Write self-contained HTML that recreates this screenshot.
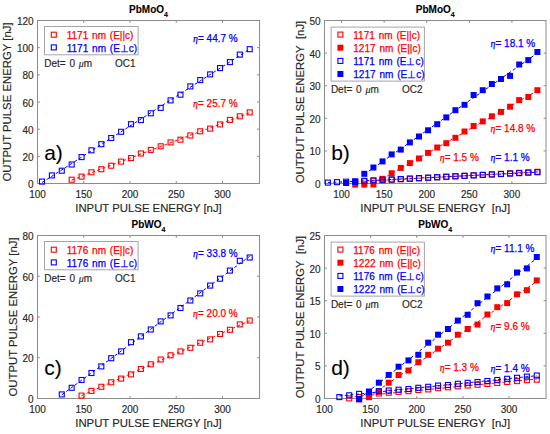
<!DOCTYPE html>
<html><head><meta charset="utf-8"><style>
html,body{margin:0;padding:0;background:#fff;}
svg{display:block;}
text{font-family:"Liberation Sans",sans-serif;fill:#262626;stroke:#262626;stroke-width:0.15px;}
.c{stroke-width:0.25px;}
.t{font-size:10px;}
.l{font-size:11.35px;}
.ti{font-size:10px;font-weight:bold;fill:#000;stroke:#000;stroke-width:0.1px;}
.big{font-size:21px;fill:#000;stroke:#000;stroke-width:0.1px;}
.g{font-family:"Liberation Serif",serif;font-style:italic;}
</style></head><body>
<svg width="550" height="434" viewBox="0 0 550 434">
<rect width="550" height="434" fill="#fff"/>
<rect x="37.5" y="20.5" width="222" height="163" fill="none" stroke="#8c8c8c" stroke-width="1"/>
<path d="M37.5 183.5v-2.4M37.5 20.5v2.4M83.75 183.5v-2.4M83.75 20.5v2.4M130 183.5v-2.4M130 20.5v2.4M176.25 183.5v-2.4M176.25 20.5v2.4M222.5 183.5v-2.4M222.5 20.5v2.4M37.5 183.5h2.4M259.5 183.5h-2.4M37.5 156.33h2.4M259.5 156.33h-2.4M37.5 129.17h2.4M259.5 129.17h-2.4M37.5 102h2.4M259.5 102h-2.4M37.5 74.83h2.4M259.5 74.83h-2.4M37.5 47.67h2.4M259.5 47.67h-2.4M37.5 20.5h2.4M259.5 20.5h-2.4" stroke="#8c8c8c" stroke-width="1" fill="none"/>
<text x="37.5" y="198.2" text-anchor="middle" class="t">100</text>
<text x="83.75" y="198.2" text-anchor="middle" class="t">150</text>
<text x="130" y="198.2" text-anchor="middle" class="t">200</text>
<text x="176.25" y="198.2" text-anchor="middle" class="t">250</text>
<text x="222.5" y="198.2" text-anchor="middle" class="t">300</text>
<text x="33.6" y="188" text-anchor="end" class="t">0</text>
<text x="33.6" y="160.83" text-anchor="end" class="t">20</text>
<text x="33.6" y="133.67" text-anchor="end" class="t">40</text>
<text x="33.6" y="106.5" text-anchor="end" class="t">60</text>
<text x="33.6" y="79.33" text-anchor="end" class="t">80</text>
<text x="33.6" y="52.17" text-anchor="end" class="t">100</text>
<text x="33.6" y="25" text-anchor="end" class="t">120</text>
<text x="148.5" y="211.8" text-anchor="middle" class="l">INPUT PULSE ENERGY [nJ]</text>
<text transform="translate(11.2 102) rotate(-90)" text-anchor="middle" class="l">OUTPUT PULSE ENERGY [nJ]</text>
<text x="148.5" y="12.6" text-anchor="middle" class="ti">PbMoO<tspan font-size="7" dy="4">4</tspan></text>
<text x="44.2" y="159.6" class="big">a)</text>
<line x1="42" y1="182.57" x2="249.69" y2="49.16" stroke="#0000ff" stroke-width="1" stroke-dasharray="3 2.5"/>
<rect x="39.5" y="179.1" width="5.0" height="5.0" fill="none" stroke="#0000ff" stroke-width="1.1"/>
<rect x="49.39" y="172.9" width="5.0" height="5.0" fill="none" stroke="#0000ff" stroke-width="1.1"/>
<rect x="59.28" y="168.2" width="5.0" height="5.0" fill="none" stroke="#0000ff" stroke-width="1.1"/>
<rect x="69.17" y="162" width="5.0" height="5.0" fill="none" stroke="#0000ff" stroke-width="1.1"/>
<rect x="79.06" y="154.6" width="5.0" height="5.0" fill="none" stroke="#0000ff" stroke-width="1.1"/>
<rect x="88.95" y="147.8" width="5.0" height="5.0" fill="none" stroke="#0000ff" stroke-width="1.1"/>
<rect x="98.84" y="141.7" width="5.0" height="5.0" fill="none" stroke="#0000ff" stroke-width="1.1"/>
<rect x="108.73" y="135.5" width="5.0" height="5.0" fill="none" stroke="#0000ff" stroke-width="1.1"/>
<rect x="118.62" y="129.3" width="5.0" height="5.0" fill="none" stroke="#0000ff" stroke-width="1.1"/>
<rect x="128.51" y="121.7" width="5.0" height="5.0" fill="none" stroke="#0000ff" stroke-width="1.1"/>
<rect x="138.4" y="117.6" width="5.0" height="5.0" fill="none" stroke="#0000ff" stroke-width="1.1"/>
<rect x="148.29" y="110.8" width="5.0" height="5.0" fill="none" stroke="#0000ff" stroke-width="1.1"/>
<rect x="158.18" y="105.4" width="5.0" height="5.0" fill="none" stroke="#0000ff" stroke-width="1.1"/>
<rect x="168.07" y="97.9" width="5.0" height="5.0" fill="none" stroke="#0000ff" stroke-width="1.1"/>
<rect x="177.96" y="92.2" width="5.0" height="5.0" fill="none" stroke="#0000ff" stroke-width="1.1"/>
<rect x="187.85" y="83.9" width="5.0" height="5.0" fill="none" stroke="#0000ff" stroke-width="1.1"/>
<rect x="197.74" y="77.6" width="5.0" height="5.0" fill="none" stroke="#0000ff" stroke-width="1.1"/>
<rect x="207.63" y="71.9" width="5.0" height="5.0" fill="none" stroke="#0000ff" stroke-width="1.1"/>
<rect x="217.52" y="65.6" width="5.0" height="5.0" fill="none" stroke="#0000ff" stroke-width="1.1"/>
<rect x="227.41" y="59.6" width="5.0" height="5.0" fill="none" stroke="#0000ff" stroke-width="1.1"/>
<rect x="237.3" y="52.1" width="5.0" height="5.0" fill="none" stroke="#0000ff" stroke-width="1.1"/>
<rect x="247.19" y="46.7" width="5.0" height="5.0" fill="none" stroke="#0000ff" stroke-width="1.1"/>
<line x1="71.67" y1="180.18" x2="249.69" y2="112.81" stroke="#ff0000" stroke-width="1" stroke-dasharray="3 2.5"/>
<rect x="69.17" y="177.2" width="5.0" height="5.0" fill="none" stroke="#ff0000" stroke-width="1.1"/>
<rect x="79.06" y="174.1" width="5.0" height="5.0" fill="none" stroke="#ff0000" stroke-width="1.1"/>
<rect x="88.95" y="169.8" width="5.0" height="5.0" fill="none" stroke="#ff0000" stroke-width="1.1"/>
<rect x="98.84" y="166.7" width="5.0" height="5.0" fill="none" stroke="#ff0000" stroke-width="1.1"/>
<rect x="108.73" y="163.2" width="5.0" height="5.0" fill="none" stroke="#ff0000" stroke-width="1.1"/>
<rect x="118.62" y="159.1" width="5.0" height="5.0" fill="none" stroke="#ff0000" stroke-width="1.1"/>
<rect x="128.51" y="155.6" width="5.0" height="5.0" fill="none" stroke="#ff0000" stroke-width="1.1"/>
<rect x="138.4" y="151" width="5.0" height="5.0" fill="none" stroke="#ff0000" stroke-width="1.1"/>
<rect x="148.29" y="147.4" width="5.0" height="5.0" fill="none" stroke="#ff0000" stroke-width="1.1"/>
<rect x="158.18" y="143.8" width="5.0" height="5.0" fill="none" stroke="#ff0000" stroke-width="1.1"/>
<rect x="168.07" y="139.9" width="5.0" height="5.0" fill="none" stroke="#ff0000" stroke-width="1.1"/>
<rect x="177.96" y="137.2" width="5.0" height="5.0" fill="none" stroke="#ff0000" stroke-width="1.1"/>
<rect x="187.85" y="133" width="5.0" height="5.0" fill="none" stroke="#ff0000" stroke-width="1.1"/>
<rect x="197.74" y="128.8" width="5.0" height="5.0" fill="none" stroke="#ff0000" stroke-width="1.1"/>
<rect x="207.63" y="126.1" width="5.0" height="5.0" fill="none" stroke="#ff0000" stroke-width="1.1"/>
<rect x="217.52" y="121.9" width="5.0" height="5.0" fill="none" stroke="#ff0000" stroke-width="1.1"/>
<rect x="227.41" y="117.4" width="5.0" height="5.0" fill="none" stroke="#ff0000" stroke-width="1.1"/>
<rect x="237.3" y="113.8" width="5.0" height="5.0" fill="none" stroke="#ff0000" stroke-width="1.1"/>
<rect x="247.19" y="109.9" width="5.0" height="5.0" fill="none" stroke="#ff0000" stroke-width="1.1"/>
<rect x="44.5" y="26.5" width="93.6" height="28.3" fill="#fff" stroke="#a6a6a6" stroke-width="1"/>
<rect x="51.3" y="32.2" width="5" height="5" fill="none" stroke="#ff0000" stroke-width="1.1"/>
<text x="66.7" y="39.1" word-spacing="1.1" style="fill:#ff0000;stroke:#ff0000" class="t c">1171 nm (E||c)</text>
<rect x="51.3" y="44.9" width="5" height="5" fill="none" stroke="#0000ff" stroke-width="1.1"/>
<text x="66.7" y="51.8" word-spacing="1.1" style="fill:#0000ff;stroke:#0000ff" class="t c">1171 nm (E&#8869;c)</text>
<text x="44.3" y="67" class="t" word-spacing="1">Det= 0 <tspan class="g">&#956;</tspan>m</text>
<text x="115" y="67" class="t">OC1</text>
<text x="193" y="41.6" style="fill:#0000ff;stroke:#0000ff" class="t c" text-anchor="start"><tspan class="g">&#951;</tspan>= 44.7 %</text>
<text x="193" y="107.1" style="fill:#ff0000;stroke:#ff0000" class="t c" text-anchor="start"><tspan class="g">&#951;</tspan>= 25.7 %</text>
<rect x="324.5" y="20.5" width="221.5" height="163" fill="none" stroke="#8c8c8c" stroke-width="1"/>
<path d="M341.54 183.5v-2.4M341.54 20.5v2.4M384.13 183.5v-2.4M384.13 20.5v2.4M426.73 183.5v-2.4M426.73 20.5v2.4M469.33 183.5v-2.4M469.33 20.5v2.4M511.92 183.5v-2.4M511.92 20.5v2.4M324.5 183.5h2.4M546 183.5h-2.4M324.5 150.9h2.4M546 150.9h-2.4M324.5 118.3h2.4M546 118.3h-2.4M324.5 85.7h2.4M546 85.7h-2.4M324.5 53.1h2.4M546 53.1h-2.4M324.5 20.5h2.4M546 20.5h-2.4" stroke="#8c8c8c" stroke-width="1" fill="none"/>
<text x="341.54" y="198.2" text-anchor="middle" class="t">100</text>
<text x="384.13" y="198.2" text-anchor="middle" class="t">150</text>
<text x="426.73" y="198.2" text-anchor="middle" class="t">200</text>
<text x="469.33" y="198.2" text-anchor="middle" class="t">250</text>
<text x="511.92" y="198.2" text-anchor="middle" class="t">300</text>
<text x="320.6" y="188" text-anchor="end" class="t">0</text>
<text x="320.6" y="155.4" text-anchor="end" class="t">10</text>
<text x="320.6" y="122.8" text-anchor="end" class="t">20</text>
<text x="320.6" y="90.2" text-anchor="end" class="t">30</text>
<text x="320.6" y="57.6" text-anchor="end" class="t">40</text>
<text x="320.6" y="25" text-anchor="end" class="t">50</text>
<text x="435.25" y="211.8" text-anchor="middle" class="l">INPUT PULSE ENERGY&#160; [nJ]</text>
<text transform="translate(304 102) rotate(-90)" text-anchor="middle" class="l">OUTPUT PULSE ENERGY&#160; [nJ]</text>
<text x="435.25" y="12.6" text-anchor="middle" class="ti">PbMoO<tspan font-size="7" dy="4">4</tspan></text>
<text x="331.2" y="159.6" class="big">b)</text>
<line x1="364.32" y1="181.3" x2="537.41" y2="171.8" stroke="#ff0000" stroke-width="1" stroke-dasharray="3 2.5"/>
<rect x="361.82" y="178.8" width="5.0" height="5.0" fill="none" stroke="#ff0000" stroke-width="1.1"/>
<rect x="370.93" y="178.3" width="5.0" height="5.0" fill="none" stroke="#ff0000" stroke-width="1.1"/>
<rect x="380.04" y="177.8" width="5.0" height="5.0" fill="none" stroke="#ff0000" stroke-width="1.1"/>
<rect x="389.15" y="177.3" width="5.0" height="5.0" fill="none" stroke="#ff0000" stroke-width="1.1"/>
<rect x="398.26" y="176.8" width="5.0" height="5.0" fill="none" stroke="#ff0000" stroke-width="1.1"/>
<rect x="407.37" y="176.3" width="5.0" height="5.0" fill="none" stroke="#ff0000" stroke-width="1.1"/>
<rect x="416.48" y="175.8" width="5.0" height="5.0" fill="none" stroke="#ff0000" stroke-width="1.1"/>
<rect x="425.59" y="175.3" width="5.0" height="5.0" fill="none" stroke="#ff0000" stroke-width="1.1"/>
<rect x="434.7" y="174.8" width="5.0" height="5.0" fill="none" stroke="#ff0000" stroke-width="1.1"/>
<rect x="443.81" y="174.3" width="5.0" height="5.0" fill="none" stroke="#ff0000" stroke-width="1.1"/>
<rect x="452.92" y="173.8" width="5.0" height="5.0" fill="none" stroke="#ff0000" stroke-width="1.1"/>
<rect x="462.03" y="173.3" width="5.0" height="5.0" fill="none" stroke="#ff0000" stroke-width="1.1"/>
<rect x="471.14" y="172.8" width="5.0" height="5.0" fill="none" stroke="#ff0000" stroke-width="1.1"/>
<rect x="480.25" y="172.3" width="5.0" height="5.0" fill="none" stroke="#ff0000" stroke-width="1.1"/>
<rect x="489.36" y="171.8" width="5.0" height="5.0" fill="none" stroke="#ff0000" stroke-width="1.1"/>
<rect x="498.47" y="171.3" width="5.0" height="5.0" fill="none" stroke="#ff0000" stroke-width="1.1"/>
<rect x="507.58" y="170.8" width="5.0" height="5.0" fill="none" stroke="#ff0000" stroke-width="1.1"/>
<rect x="516.69" y="170.3" width="5.0" height="5.0" fill="none" stroke="#ff0000" stroke-width="1.1"/>
<rect x="525.8" y="169.8" width="5.0" height="5.0" fill="none" stroke="#ff0000" stroke-width="1.1"/>
<rect x="534.91" y="169.3" width="5.0" height="5.0" fill="none" stroke="#ff0000" stroke-width="1.1"/>
<line x1="382.54" y1="178.68" x2="537.41" y2="90.67" stroke="#ff0000" stroke-width="1" stroke-dasharray="3 2.5"/>
<rect x="352.21" y="181.6" width="6" height="6" fill="#ff0000"/>
<rect x="361.32" y="181.6" width="6" height="6" fill="#ff0000"/>
<rect x="370.43" y="181.5" width="6" height="6" fill="#ff0000"/>
<rect x="379.54" y="175.8" width="6" height="6" fill="#ff0000"/>
<rect x="388.65" y="170.3" width="6" height="6" fill="#ff0000"/>
<rect x="397.76" y="164.9" width="6" height="6" fill="#ff0000"/>
<rect x="406.87" y="160.1" width="6" height="6" fill="#ff0000"/>
<rect x="415.98" y="155.5" width="6" height="6" fill="#ff0000"/>
<rect x="425.09" y="149.9" width="6" height="6" fill="#ff0000"/>
<rect x="434.2" y="144.5" width="6" height="6" fill="#ff0000"/>
<rect x="443.31" y="140.2" width="6" height="6" fill="#ff0000"/>
<rect x="452.42" y="134.8" width="6" height="6" fill="#ff0000"/>
<rect x="461.53" y="128.5" width="6" height="6" fill="#ff0000"/>
<rect x="470.64" y="123" width="6" height="6" fill="#ff0000"/>
<rect x="479.75" y="118.4" width="6" height="6" fill="#ff0000"/>
<rect x="488.86" y="113.3" width="6" height="6" fill="#ff0000"/>
<rect x="497.97" y="108.9" width="6" height="6" fill="#ff0000"/>
<rect x="507.08" y="103.7" width="6" height="6" fill="#ff0000"/>
<rect x="516.19" y="97.1" width="6" height="6" fill="#ff0000"/>
<rect x="525.3" y="94" width="6" height="6" fill="#ff0000"/>
<rect x="534.41" y="87.2" width="6" height="6" fill="#ff0000"/>
<line x1="327.88" y1="182.6" x2="537.41" y2="172.25" stroke="#0000ff" stroke-width="1" stroke-dasharray="3 2.5"/>
<rect x="325.38" y="180.1" width="5.0" height="5.0" fill="none" stroke="#0000ff" stroke-width="1.1"/>
<rect x="334.49" y="179.65" width="5.0" height="5.0" fill="none" stroke="#0000ff" stroke-width="1.1"/>
<rect x="343.6" y="179.2" width="5.0" height="5.0" fill="none" stroke="#0000ff" stroke-width="1.1"/>
<rect x="352.71" y="178.75" width="5.0" height="5.0" fill="none" stroke="#0000ff" stroke-width="1.1"/>
<rect x="361.82" y="178.3" width="5.0" height="5.0" fill="none" stroke="#0000ff" stroke-width="1.1"/>
<rect x="370.93" y="177.85" width="5.0" height="5.0" fill="none" stroke="#0000ff" stroke-width="1.1"/>
<rect x="380.04" y="177.4" width="5.0" height="5.0" fill="none" stroke="#0000ff" stroke-width="1.1"/>
<rect x="389.15" y="176.95" width="5.0" height="5.0" fill="none" stroke="#0000ff" stroke-width="1.1"/>
<rect x="398.26" y="176.5" width="5.0" height="5.0" fill="none" stroke="#0000ff" stroke-width="1.1"/>
<rect x="407.37" y="176.05" width="5.0" height="5.0" fill="none" stroke="#0000ff" stroke-width="1.1"/>
<rect x="416.48" y="175.6" width="5.0" height="5.0" fill="none" stroke="#0000ff" stroke-width="1.1"/>
<rect x="425.59" y="175.15" width="5.0" height="5.0" fill="none" stroke="#0000ff" stroke-width="1.1"/>
<rect x="434.7" y="174.7" width="5.0" height="5.0" fill="none" stroke="#0000ff" stroke-width="1.1"/>
<rect x="443.81" y="174.25" width="5.0" height="5.0" fill="none" stroke="#0000ff" stroke-width="1.1"/>
<rect x="452.92" y="173.8" width="5.0" height="5.0" fill="none" stroke="#0000ff" stroke-width="1.1"/>
<rect x="462.03" y="173.35" width="5.0" height="5.0" fill="none" stroke="#0000ff" stroke-width="1.1"/>
<rect x="471.14" y="172.9" width="5.0" height="5.0" fill="none" stroke="#0000ff" stroke-width="1.1"/>
<rect x="480.25" y="172.45" width="5.0" height="5.0" fill="none" stroke="#0000ff" stroke-width="1.1"/>
<rect x="489.36" y="172" width="5.0" height="5.0" fill="none" stroke="#0000ff" stroke-width="1.1"/>
<rect x="498.47" y="171.55" width="5.0" height="5.0" fill="none" stroke="#0000ff" stroke-width="1.1"/>
<rect x="507.58" y="171.1" width="5.0" height="5.0" fill="none" stroke="#0000ff" stroke-width="1.1"/>
<rect x="516.69" y="170.65" width="5.0" height="5.0" fill="none" stroke="#0000ff" stroke-width="1.1"/>
<rect x="525.8" y="170.2" width="5.0" height="5.0" fill="none" stroke="#0000ff" stroke-width="1.1"/>
<rect x="534.91" y="169.75" width="5.0" height="5.0" fill="none" stroke="#0000ff" stroke-width="1.1"/>
<line x1="364.32" y1="174.25" x2="537.41" y2="53.07" stroke="#0000ff" stroke-width="1" stroke-dasharray="3 2.5"/>
<rect x="343.1" y="180" width="6" height="6" fill="#0000ff"/>
<rect x="352.21" y="179" width="6" height="6" fill="#0000ff"/>
<rect x="361.32" y="170.8" width="6" height="6" fill="#0000ff"/>
<rect x="370.43" y="164.5" width="6" height="6" fill="#0000ff"/>
<rect x="379.54" y="158.4" width="6" height="6" fill="#0000ff"/>
<rect x="388.65" y="151.4" width="6" height="6" fill="#0000ff"/>
<rect x="397.76" y="146.6" width="6" height="6" fill="#0000ff"/>
<rect x="406.87" y="139.4" width="6" height="6" fill="#0000ff"/>
<rect x="415.98" y="133.5" width="6" height="6" fill="#0000ff"/>
<rect x="425.09" y="127.3" width="6" height="6" fill="#0000ff"/>
<rect x="434.2" y="121.2" width="6" height="6" fill="#0000ff"/>
<rect x="443.31" y="114.4" width="6" height="6" fill="#0000ff"/>
<rect x="452.42" y="107.2" width="6" height="6" fill="#0000ff"/>
<rect x="461.53" y="101.8" width="6" height="6" fill="#0000ff"/>
<rect x="470.64" y="92" width="6" height="6" fill="#0000ff"/>
<rect x="479.75" y="87.2" width="6" height="6" fill="#0000ff"/>
<rect x="488.86" y="81" width="6" height="6" fill="#0000ff"/>
<rect x="497.97" y="76" width="6" height="6" fill="#0000ff"/>
<rect x="507.08" y="72.9" width="6" height="6" fill="#0000ff"/>
<rect x="516.19" y="61.5" width="6" height="6" fill="#0000ff"/>
<rect x="525.3" y="57.1" width="6" height="6" fill="#0000ff"/>
<rect x="534.41" y="49" width="6" height="6" fill="#0000ff"/>
<rect x="331.1" y="27.1" width="93.3" height="54" fill="#fff" stroke="#a6a6a6" stroke-width="1"/>
<rect x="337.9" y="32.1" width="5" height="5" fill="none" stroke="#ff0000" stroke-width="1.1"/>
<text x="353.3" y="39" word-spacing="1.1" style="fill:#ff0000;stroke:#ff0000" class="t c">1171 nm (E||c)</text>
<rect x="337.4" y="44.7" width="6" height="6" fill="#ff0000"/>
<text x="353.3" y="52.1" word-spacing="1.1" style="fill:#ff0000;stroke:#ff0000" class="t c">1217 nm (E||c)</text>
<rect x="337.9" y="58.4" width="5" height="5" fill="none" stroke="#0000ff" stroke-width="1.1"/>
<text x="353.3" y="65.3" word-spacing="1.1" style="fill:#0000ff;stroke:#0000ff" class="t c">1171 nm (E&#8869;c)</text>
<rect x="337.4" y="71" width="6" height="6" fill="#0000ff"/>
<text x="353.3" y="78.4" word-spacing="1.1" style="fill:#0000ff;stroke:#0000ff" class="t c">1217 nm (E&#8869;c)</text>
<text x="330.9" y="93" class="t" word-spacing="1">Det= 0 <tspan class="g">&#956;</tspan>m</text>
<text x="402" y="93" class="t">OC2</text>
<text x="490.5" y="46.9" style="fill:#0000ff;stroke:#0000ff" class="t c" text-anchor="start"><tspan class="g">&#951;</tspan>= 18.1 %</text>
<text x="490.5" y="131.6" style="fill:#ff0000;stroke:#ff0000" class="t c" text-anchor="start"><tspan class="g">&#951;</tspan>= 14.8 %</text>
<text x="439.7" y="160.6" style="fill:#ff0000;stroke:#ff0000" class="t c" text-anchor="start"><tspan class="g">&#951;</tspan>= 1.5 %</text>
<text x="490.5" y="160.6" style="fill:#0000ff;stroke:#0000ff" class="t c" text-anchor="start"><tspan class="g">&#951;</tspan>= 1.1 %</text>
<rect x="37.5" y="235.5" width="222" height="163" fill="none" stroke="#8c8c8c" stroke-width="1"/>
<path d="M37.5 398.5v-2.4M37.5 235.5v2.4M83.75 398.5v-2.4M83.75 235.5v2.4M130 398.5v-2.4M130 235.5v2.4M176.25 398.5v-2.4M176.25 235.5v2.4M222.5 398.5v-2.4M222.5 235.5v2.4M37.5 398.5h2.4M259.5 398.5h-2.4M37.5 357.75h2.4M259.5 357.75h-2.4M37.5 317h2.4M259.5 317h-2.4M37.5 276.25h2.4M259.5 276.25h-2.4M37.5 235.5h2.4M259.5 235.5h-2.4" stroke="#8c8c8c" stroke-width="1" fill="none"/>
<text x="37.5" y="413.2" text-anchor="middle" class="t">100</text>
<text x="83.75" y="413.2" text-anchor="middle" class="t">150</text>
<text x="130" y="413.2" text-anchor="middle" class="t">200</text>
<text x="176.25" y="413.2" text-anchor="middle" class="t">250</text>
<text x="222.5" y="413.2" text-anchor="middle" class="t">300</text>
<text x="33.6" y="403" text-anchor="end" class="t">0</text>
<text x="33.6" y="362.25" text-anchor="end" class="t">20</text>
<text x="33.6" y="321.5" text-anchor="end" class="t">40</text>
<text x="33.6" y="280.75" text-anchor="end" class="t">60</text>
<text x="33.6" y="240" text-anchor="end" class="t">80</text>
<text x="148.5" y="426.8" text-anchor="middle" class="l">INPUT PULSE ENERGY [nJ]</text>
<text transform="translate(16.5 317) rotate(-90)" text-anchor="middle" class="l">OUTPUT PULSE ENERGY [nJ]</text>
<text x="148.5" y="227.6" text-anchor="middle" class="ti">PbWO<tspan font-size="7" dy="4">4</tspan></text>
<text x="44.2" y="374.6" class="big">c)</text>
<line x1="61.78" y1="394.83" x2="249.69" y2="256.29" stroke="#0000ff" stroke-width="1" stroke-dasharray="3 2.5"/>
<rect x="59.28" y="391.9" width="5.0" height="5.0" fill="none" stroke="#0000ff" stroke-width="1.1"/>
<rect x="69.17" y="385.3" width="5.0" height="5.0" fill="none" stroke="#0000ff" stroke-width="1.1"/>
<rect x="79.06" y="377.5" width="5.0" height="5.0" fill="none" stroke="#0000ff" stroke-width="1.1"/>
<rect x="88.95" y="370.5" width="5.0" height="5.0" fill="none" stroke="#0000ff" stroke-width="1.1"/>
<rect x="98.84" y="363.9" width="5.0" height="5.0" fill="none" stroke="#0000ff" stroke-width="1.1"/>
<rect x="108.73" y="355.7" width="5.0" height="5.0" fill="none" stroke="#0000ff" stroke-width="1.1"/>
<rect x="118.62" y="348.9" width="5.0" height="5.0" fill="none" stroke="#0000ff" stroke-width="1.1"/>
<rect x="128.51" y="339.7" width="5.0" height="5.0" fill="none" stroke="#0000ff" stroke-width="1.1"/>
<rect x="138.4" y="333.9" width="5.0" height="5.0" fill="none" stroke="#0000ff" stroke-width="1.1"/>
<rect x="148.29" y="327" width="5.0" height="5.0" fill="none" stroke="#0000ff" stroke-width="1.1"/>
<rect x="158.18" y="318.9" width="5.0" height="5.0" fill="none" stroke="#0000ff" stroke-width="1.1"/>
<rect x="168.07" y="312.9" width="5.0" height="5.0" fill="none" stroke="#0000ff" stroke-width="1.1"/>
<rect x="177.96" y="305.5" width="5.0" height="5.0" fill="none" stroke="#0000ff" stroke-width="1.1"/>
<rect x="187.85" y="298" width="5.0" height="5.0" fill="none" stroke="#0000ff" stroke-width="1.1"/>
<rect x="197.74" y="290.9" width="5.0" height="5.0" fill="none" stroke="#0000ff" stroke-width="1.1"/>
<rect x="207.63" y="283.1" width="5.0" height="5.0" fill="none" stroke="#0000ff" stroke-width="1.1"/>
<rect x="217.52" y="276.2" width="5.0" height="5.0" fill="none" stroke="#0000ff" stroke-width="1.1"/>
<rect x="227.41" y="268.1" width="5.0" height="5.0" fill="none" stroke="#0000ff" stroke-width="1.1"/>
<rect x="237.3" y="258.3" width="5.0" height="5.0" fill="none" stroke="#0000ff" stroke-width="1.1"/>
<rect x="247.19" y="255" width="5.0" height="5.0" fill="none" stroke="#0000ff" stroke-width="1.1"/>
<line x1="81.56" y1="395.61" x2="249.69" y2="320.69" stroke="#ff0000" stroke-width="1" stroke-dasharray="3 2.5"/>
<rect x="79.06" y="393.1" width="5.0" height="5.0" fill="none" stroke="#ff0000" stroke-width="1.1"/>
<rect x="88.95" y="388.4" width="5.0" height="5.0" fill="none" stroke="#ff0000" stroke-width="1.1"/>
<rect x="98.84" y="384.3" width="5.0" height="5.0" fill="none" stroke="#ff0000" stroke-width="1.1"/>
<rect x="108.73" y="379.8" width="5.0" height="5.0" fill="none" stroke="#ff0000" stroke-width="1.1"/>
<rect x="118.62" y="376.1" width="5.0" height="5.0" fill="none" stroke="#ff0000" stroke-width="1.1"/>
<rect x="128.51" y="371.9" width="5.0" height="5.0" fill="none" stroke="#ff0000" stroke-width="1.1"/>
<rect x="138.4" y="366.5" width="5.0" height="5.0" fill="none" stroke="#ff0000" stroke-width="1.1"/>
<rect x="148.29" y="361.8" width="5.0" height="5.0" fill="none" stroke="#ff0000" stroke-width="1.1"/>
<rect x="158.18" y="357" width="5.0" height="5.0" fill="none" stroke="#ff0000" stroke-width="1.1"/>
<rect x="168.07" y="352.8" width="5.0" height="5.0" fill="none" stroke="#ff0000" stroke-width="1.1"/>
<rect x="177.96" y="348.9" width="5.0" height="5.0" fill="none" stroke="#ff0000" stroke-width="1.1"/>
<rect x="187.85" y="345.3" width="5.0" height="5.0" fill="none" stroke="#ff0000" stroke-width="1.1"/>
<rect x="197.74" y="340.2" width="5.0" height="5.0" fill="none" stroke="#ff0000" stroke-width="1.1"/>
<rect x="207.63" y="336.9" width="5.0" height="5.0" fill="none" stroke="#ff0000" stroke-width="1.1"/>
<rect x="217.52" y="331.5" width="5.0" height="5.0" fill="none" stroke="#ff0000" stroke-width="1.1"/>
<rect x="227.41" y="327.3" width="5.0" height="5.0" fill="none" stroke="#ff0000" stroke-width="1.1"/>
<rect x="237.3" y="321.9" width="5.0" height="5.0" fill="none" stroke="#ff0000" stroke-width="1.1"/>
<rect x="247.19" y="318" width="5.0" height="5.0" fill="none" stroke="#ff0000" stroke-width="1.1"/>
<rect x="44.5" y="241.5" width="93.6" height="28.3" fill="#fff" stroke="#a6a6a6" stroke-width="1"/>
<rect x="51.3" y="247.2" width="5" height="5" fill="none" stroke="#ff0000" stroke-width="1.1"/>
<text x="66.7" y="254.1" word-spacing="1.1" style="fill:#ff0000;stroke:#ff0000" class="t c">1176 nm (E||c)</text>
<rect x="51.3" y="259.9" width="5" height="5" fill="none" stroke="#0000ff" stroke-width="1.1"/>
<text x="66.7" y="266.8" word-spacing="1.1" style="fill:#0000ff;stroke:#0000ff" class="t c">1176 nm (E&#8869;c)</text>
<text x="44.3" y="282" class="t" word-spacing="1">Det= 0 <tspan class="g">&#956;</tspan>m</text>
<text x="115" y="282" class="t">OC1</text>
<text x="193" y="256.6" style="fill:#0000ff;stroke:#0000ff" class="t c" text-anchor="start"><tspan class="g">&#951;</tspan>= 33.8 %</text>
<text x="193" y="317.1" style="fill:#ff0000;stroke:#ff0000" class="t c" text-anchor="start"><tspan class="g">&#951;</tspan>= 20.0 %</text>
<rect x="324.5" y="235.5" width="221.5" height="163" fill="none" stroke="#8c8c8c" stroke-width="1"/>
<path d="M324.5 398.5v-2.4M324.5 235.5v2.4M370.65 398.5v-2.4M370.65 235.5v2.4M416.79 398.5v-2.4M416.79 235.5v2.4M462.94 398.5v-2.4M462.94 235.5v2.4M509.08 398.5v-2.4M509.08 235.5v2.4M324.5 398.5h2.4M546 398.5h-2.4M324.5 365.9h2.4M546 365.9h-2.4M324.5 333.3h2.4M546 333.3h-2.4M324.5 300.7h2.4M546 300.7h-2.4M324.5 268.1h2.4M546 268.1h-2.4M324.5 235.5h2.4M546 235.5h-2.4" stroke="#8c8c8c" stroke-width="1" fill="none"/>
<text x="324.5" y="413.2" text-anchor="middle" class="t">100</text>
<text x="370.65" y="413.2" text-anchor="middle" class="t">150</text>
<text x="416.79" y="413.2" text-anchor="middle" class="t">200</text>
<text x="462.94" y="413.2" text-anchor="middle" class="t">250</text>
<text x="509.08" y="413.2" text-anchor="middle" class="t">300</text>
<text x="320.6" y="403" text-anchor="end" class="t">0</text>
<text x="320.6" y="370.4" text-anchor="end" class="t">5</text>
<text x="320.6" y="337.8" text-anchor="end" class="t">10</text>
<text x="320.6" y="305.2" text-anchor="end" class="t">15</text>
<text x="320.6" y="272.6" text-anchor="end" class="t">20</text>
<text x="320.6" y="240" text-anchor="end" class="t">25</text>
<text x="435.25" y="426.8" text-anchor="middle" class="l">INPUT PULSE ENERGY&#160; [nJ]</text>
<text transform="translate(304 317) rotate(-90)" text-anchor="middle" class="l">OUTPUT PULSE ENERGY&#160; [nJ]</text>
<text x="435.25" y="227.6" text-anchor="middle" class="ti">PbWO<tspan font-size="7" dy="4">4</tspan></text>
<text x="331.2" y="374.6" class="big">d)</text>
<line x1="349.24" y1="397.11" x2="536.77" y2="379.07" stroke="#ff0000" stroke-width="1" stroke-dasharray="3 2.5"/>
<rect x="346.74" y="395.9" width="5.0" height="5.0" fill="none" stroke="#ff0000" stroke-width="1.1"/>
<rect x="356.61" y="394.5" width="5.0" height="5.0" fill="none" stroke="#ff0000" stroke-width="1.1"/>
<rect x="366.48" y="393.1" width="5.0" height="5.0" fill="none" stroke="#ff0000" stroke-width="1.1"/>
<rect x="376.35" y="391" width="5.0" height="5.0" fill="none" stroke="#ff0000" stroke-width="1.1"/>
<rect x="386.22" y="390.2" width="5.0" height="5.0" fill="none" stroke="#ff0000" stroke-width="1.1"/>
<rect x="396.09" y="389.4" width="5.0" height="5.0" fill="none" stroke="#ff0000" stroke-width="1.1"/>
<rect x="405.96" y="388.7" width="5.0" height="5.0" fill="none" stroke="#ff0000" stroke-width="1.1"/>
<rect x="415.83" y="387.5" width="5.0" height="5.0" fill="none" stroke="#ff0000" stroke-width="1.1"/>
<rect x="425.7" y="386.9" width="5.0" height="5.0" fill="none" stroke="#ff0000" stroke-width="1.1"/>
<rect x="435.57" y="385.7" width="5.0" height="5.0" fill="none" stroke="#ff0000" stroke-width="1.1"/>
<rect x="445.44" y="384.8" width="5.0" height="5.0" fill="none" stroke="#ff0000" stroke-width="1.1"/>
<rect x="455.31" y="383.8" width="5.0" height="5.0" fill="none" stroke="#ff0000" stroke-width="1.1"/>
<rect x="465.18" y="383" width="5.0" height="5.0" fill="none" stroke="#ff0000" stroke-width="1.1"/>
<rect x="475.05" y="382.3" width="5.0" height="5.0" fill="none" stroke="#ff0000" stroke-width="1.1"/>
<rect x="484.92" y="381.5" width="5.0" height="5.0" fill="none" stroke="#ff0000" stroke-width="1.1"/>
<rect x="494.79" y="380.5" width="5.0" height="5.0" fill="none" stroke="#ff0000" stroke-width="1.1"/>
<rect x="504.66" y="379.5" width="5.0" height="5.0" fill="none" stroke="#ff0000" stroke-width="1.1"/>
<rect x="514.53" y="378.6" width="5.0" height="5.0" fill="none" stroke="#ff0000" stroke-width="1.1"/>
<rect x="524.4" y="377.7" width="5.0" height="5.0" fill="none" stroke="#ff0000" stroke-width="1.1"/>
<rect x="534.27" y="377.2" width="5.0" height="5.0" fill="none" stroke="#ff0000" stroke-width="1.1"/>
<line x1="368.98" y1="396.68" x2="536.77" y2="281.47" stroke="#ff0000" stroke-width="1" stroke-dasharray="3 2.5"/>
<rect x="356.11" y="396.5" width="6" height="6" fill="#ff0000"/>
<rect x="365.98" y="394.2" width="6" height="6" fill="#ff0000"/>
<rect x="375.85" y="388.5" width="6" height="6" fill="#ff0000"/>
<rect x="385.72" y="379.7" width="6" height="6" fill="#ff0000"/>
<rect x="395.59" y="372" width="6" height="6" fill="#ff0000"/>
<rect x="405.46" y="367.5" width="6" height="6" fill="#ff0000"/>
<rect x="415.33" y="359.2" width="6" height="6" fill="#ff0000"/>
<rect x="425.2" y="351.8" width="6" height="6" fill="#ff0000"/>
<rect x="435.07" y="345.7" width="6" height="6" fill="#ff0000"/>
<rect x="444.94" y="339.7" width="6" height="6" fill="#ff0000"/>
<rect x="454.81" y="331.7" width="6" height="6" fill="#ff0000"/>
<rect x="464.68" y="326" width="6" height="6" fill="#ff0000"/>
<rect x="474.55" y="321.6" width="6" height="6" fill="#ff0000"/>
<rect x="484.42" y="311.5" width="6" height="6" fill="#ff0000"/>
<rect x="494.29" y="304.2" width="6" height="6" fill="#ff0000"/>
<rect x="504.16" y="300.1" width="6" height="6" fill="#ff0000"/>
<rect x="514.03" y="291.3" width="6" height="6" fill="#ff0000"/>
<rect x="523.9" y="287.2" width="6" height="6" fill="#ff0000"/>
<rect x="533.77" y="277.4" width="6" height="6" fill="#ff0000"/>
<line x1="339.37" y1="395.97" x2="536.77" y2="375.69" stroke="#0000ff" stroke-width="1" stroke-dasharray="3 2.5"/>
<rect x="336.87" y="394.6" width="5.0" height="5.0" fill="none" stroke="#0000ff" stroke-width="1.1"/>
<rect x="346.74" y="392.8" width="5.0" height="5.0" fill="none" stroke="#0000ff" stroke-width="1.1"/>
<rect x="356.61" y="391.4" width="5.0" height="5.0" fill="none" stroke="#0000ff" stroke-width="1.1"/>
<rect x="366.48" y="389.7" width="5.0" height="5.0" fill="none" stroke="#0000ff" stroke-width="1.1"/>
<rect x="376.35" y="388.7" width="5.0" height="5.0" fill="none" stroke="#0000ff" stroke-width="1.1"/>
<rect x="386.22" y="388" width="5.0" height="5.0" fill="none" stroke="#0000ff" stroke-width="1.1"/>
<rect x="396.09" y="387.2" width="5.0" height="5.0" fill="none" stroke="#0000ff" stroke-width="1.1"/>
<rect x="405.96" y="386.5" width="5.0" height="5.0" fill="none" stroke="#0000ff" stroke-width="1.1"/>
<rect x="415.83" y="385.3" width="5.0" height="5.0" fill="none" stroke="#0000ff" stroke-width="1.1"/>
<rect x="425.7" y="384.3" width="5.0" height="5.0" fill="none" stroke="#0000ff" stroke-width="1.1"/>
<rect x="435.57" y="383.1" width="5.0" height="5.0" fill="none" stroke="#0000ff" stroke-width="1.1"/>
<rect x="445.44" y="382.5" width="5.0" height="5.0" fill="none" stroke="#0000ff" stroke-width="1.1"/>
<rect x="455.31" y="381.3" width="5.0" height="5.0" fill="none" stroke="#0000ff" stroke-width="1.1"/>
<rect x="465.18" y="380.3" width="5.0" height="5.0" fill="none" stroke="#0000ff" stroke-width="1.1"/>
<rect x="475.05" y="379.5" width="5.0" height="5.0" fill="none" stroke="#0000ff" stroke-width="1.1"/>
<rect x="484.92" y="378.5" width="5.0" height="5.0" fill="none" stroke="#0000ff" stroke-width="1.1"/>
<rect x="494.79" y="377.5" width="5.0" height="5.0" fill="none" stroke="#0000ff" stroke-width="1.1"/>
<rect x="504.66" y="376.3" width="5.0" height="5.0" fill="none" stroke="#0000ff" stroke-width="1.1"/>
<rect x="514.53" y="375.3" width="5.0" height="5.0" fill="none" stroke="#0000ff" stroke-width="1.1"/>
<rect x="524.4" y="374.1" width="5.0" height="5.0" fill="none" stroke="#0000ff" stroke-width="1.1"/>
<rect x="534.27" y="373" width="5.0" height="5.0" fill="none" stroke="#0000ff" stroke-width="1.1"/>
<line x1="359.11" y1="398.79" x2="536.77" y2="258.27" stroke="#0000ff" stroke-width="1" stroke-dasharray="3 2.5"/>
<rect x="356.11" y="396" width="6" height="6" fill="#0000ff"/>
<rect x="365.98" y="388.5" width="6" height="6" fill="#0000ff"/>
<rect x="375.85" y="379.7" width="6" height="6" fill="#0000ff"/>
<rect x="385.72" y="371.9" width="6" height="6" fill="#0000ff"/>
<rect x="395.59" y="363.7" width="6" height="6" fill="#0000ff"/>
<rect x="405.46" y="357.4" width="6" height="6" fill="#0000ff"/>
<rect x="415.33" y="351.8" width="6" height="6" fill="#0000ff"/>
<rect x="425.2" y="339.7" width="6" height="6" fill="#0000ff"/>
<rect x="435.07" y="331.7" width="6" height="6" fill="#0000ff"/>
<rect x="444.94" y="326" width="6" height="6" fill="#0000ff"/>
<rect x="454.81" y="317.6" width="6" height="6" fill="#0000ff"/>
<rect x="464.68" y="311.8" width="6" height="6" fill="#0000ff"/>
<rect x="474.55" y="300.2" width="6" height="6" fill="#0000ff"/>
<rect x="484.42" y="293.5" width="6" height="6" fill="#0000ff"/>
<rect x="494.29" y="285.4" width="6" height="6" fill="#0000ff"/>
<rect x="504.16" y="281.3" width="6" height="6" fill="#0000ff"/>
<rect x="514.03" y="269.5" width="6" height="6" fill="#0000ff"/>
<rect x="523.9" y="265.4" width="6" height="6" fill="#0000ff"/>
<rect x="533.77" y="254" width="6" height="6" fill="#0000ff"/>
<rect x="331.1" y="242.1" width="93.3" height="54" fill="#fff" stroke="#a6a6a6" stroke-width="1"/>
<rect x="337.9" y="247.1" width="5" height="5" fill="none" stroke="#ff0000" stroke-width="1.1"/>
<text x="353.3" y="254" word-spacing="1.1" style="fill:#ff0000;stroke:#ff0000" class="t c">1176 nm (E||c)</text>
<rect x="337.4" y="259.7" width="6" height="6" fill="#ff0000"/>
<text x="353.3" y="267.1" word-spacing="1.1" style="fill:#ff0000;stroke:#ff0000" class="t c">1222 nm (E||c)</text>
<rect x="337.9" y="273.4" width="5" height="5" fill="none" stroke="#0000ff" stroke-width="1.1"/>
<text x="353.3" y="280.3" word-spacing="1.1" style="fill:#0000ff;stroke:#0000ff" class="t c">1176 nm (E&#8869;c)</text>
<rect x="337.4" y="286" width="6" height="6" fill="#0000ff"/>
<text x="353.3" y="293.4" word-spacing="1.1" style="fill:#0000ff;stroke:#0000ff" class="t c">1222 nm (E&#8869;c)</text>
<text x="330.9" y="308" class="t" word-spacing="1">Det= 0 <tspan class="g">&#956;</tspan>m</text>
<text x="402" y="308" class="t">OC2</text>
<text x="490.5" y="252.1" style="fill:#0000ff;stroke:#0000ff" class="t c" text-anchor="start"><tspan class="g">&#951;</tspan>= 11.1 %</text>
<text x="490.5" y="330.3" style="fill:#ff0000;stroke:#ff0000" class="t c" text-anchor="start"><tspan class="g">&#951;</tspan>= 9.6 %</text>
<text x="439.7" y="371.1" style="fill:#ff0000;stroke:#ff0000" class="t c" text-anchor="start"><tspan class="g">&#951;</tspan>= 1.3 %</text>
<text x="490.5" y="371.6" style="fill:#0000ff;stroke:#0000ff" class="t c" text-anchor="start"><tspan class="g">&#951;</tspan>= 1.4 %</text>
</svg>
</body></html>
